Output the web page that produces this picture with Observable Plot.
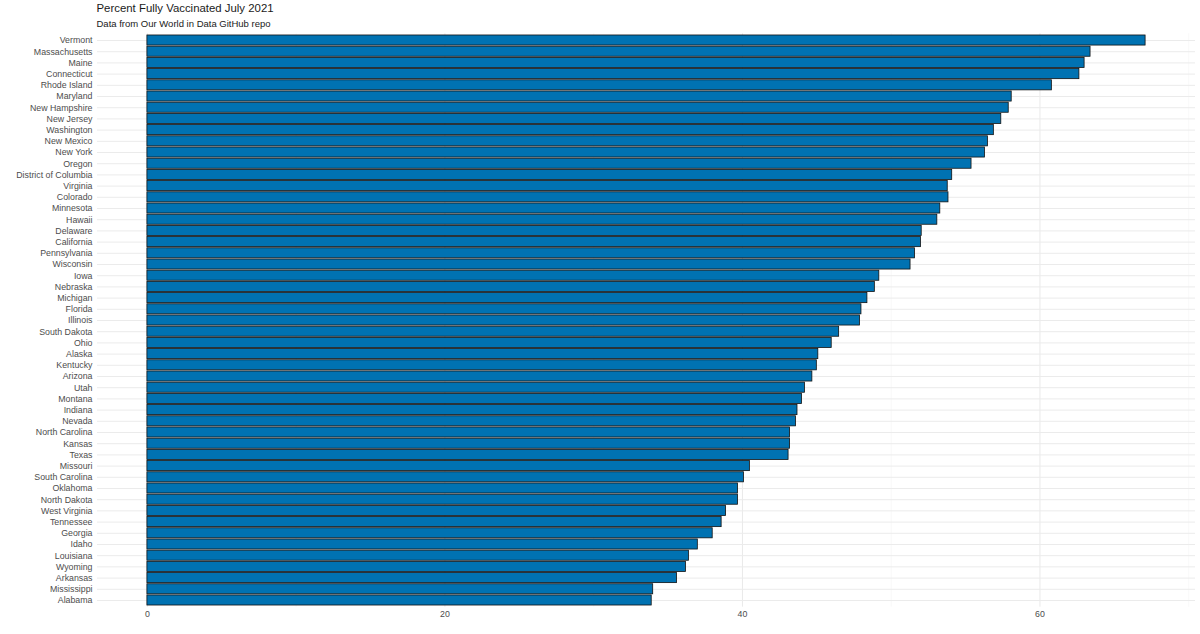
<!DOCTYPE html>
<html>
<head>
<meta charset="utf-8">
<script src="https://cdn.jsdelivr.net/npm/d3@7"></script>
<script src="https://cdn.jsdelivr.net/npm/@observablehq/plot@0.6"></script>
<style>
  html, body { margin: 0; padding: 0; background: #fff; }
  #wrap { width: 1200px; font-family: "Liberation Sans", Arial, sans-serif; }
  #header { position: relative; height: 30px; }
  #title { position: absolute; left: 96.5px; top: 3.4px; font-size: 11.4px; line-height: 11.4px; color: #1a1a1a; white-space: nowrap; }
  #subtitle { position: absolute; left: 96.5px; top: 19.3px; font-size: 9.5px; line-height: 9.5px; color: #1a1a1a; white-space: nowrap; }
  svg { display: block; }
</style>
</head>
<body>
<div id="wrap">
  <div id="header">
    <div id="title">Percent Fully Vaccinated July 2021</div>
    <div id="subtitle">Data from Our World in Data GitHub repo</div>
  </div>
  <div id="chart"></div>
</div>
<script>
const states = ["Vermont","Massachusetts","Maine","Connecticut","Rhode Island","Maryland","New Hampshire","New Jersey","Washington","New Mexico","New York","Oregon","District of Columbia","Virginia","Colorado","Minnesota","Hawaii","Delaware","California","Pennsylvania","Wisconsin","Iowa","Nebraska","Michigan","Florida","Illinois","South Dakota","Ohio","Alaska","Kentucky","Arizona","Utah","Montana","Indiana","Nevada","North Carolina","Kansas","Texas","Missouri","South Carolina","Oklahoma","North Dakota","West Virginia","Tennessee","Georgia","Idaho","Louisiana","Wyoming","Arkansas","Mississippi","Alabama"];
const pctFullyVaccinated = [67.1,63.4,63.0,62.65,60.8,58.1,57.9,57.4,56.9,56.5,56.3,55.4,54.1,53.8,53.85,53.3,53.1,52.05,52.0,51.6,51.3,49.2,48.9,48.4,48.0,47.9,46.5,46.0,45.1,45.0,44.7,44.2,44.0,43.7,43.6,43.2,43.2,43.1,40.5,40.1,39.7,39.7,38.9,38.6,38.0,37.0,36.4,36.2,35.6,34.0,33.9];
const majorTicks = [0, 20, 40, 60];
const minorTicks = [10, 30, 50, 70];

const data = states.map((s, i) => ({state: s, pct: pctFullyVaccinated[i]}));
const maxV = d3.max(pctFullyVaccinated);
const pad = maxV * 0.05;

const chart = Plot.plot({
  width: 1200,
  height: 604,
  marginLeft: 97,
  marginRight: 5,
  marginTop: 3.3,
  marginBottom: 27.3,
  style: {fontFamily: "Liberation Sans, Arial, sans-serif", background: "#fff"},
  x: {domain: [-pad, maxV + pad]},
  y: {domain: states, paddingInner: 0.1, paddingOuter: 0.15, round: false},
  marks: [
    Plot.ruleX(minorTicks, {stroke: "#f3f3f3", strokeWidth: 0.6}),
    Plot.ruleX(majorTicks, {stroke: "#e9e9e9", strokeWidth: 1}),
    Plot.tickY(states, {y: d => d, stroke: "#ebebeb", strokeWidth: 1}),
    Plot.barX(data, {y: "state", x: "pct", fill: "#0072B2", stroke: "#111", strokeWidth: 0.8}),
    Plot.axisY({tickSize: 0, tickPadding: 5, fontSize: 8.8, color: "#4d4d4d", label: null}),
    Plot.axisX({ticks: majorTicks, tickSize: 0, tickPadding: 3.5, fontSize: 8.8, color: "#4d4d4d", label: null})
  ]
});
document.getElementById("chart").appendChild(chart);
</script>
</body>
</html>
